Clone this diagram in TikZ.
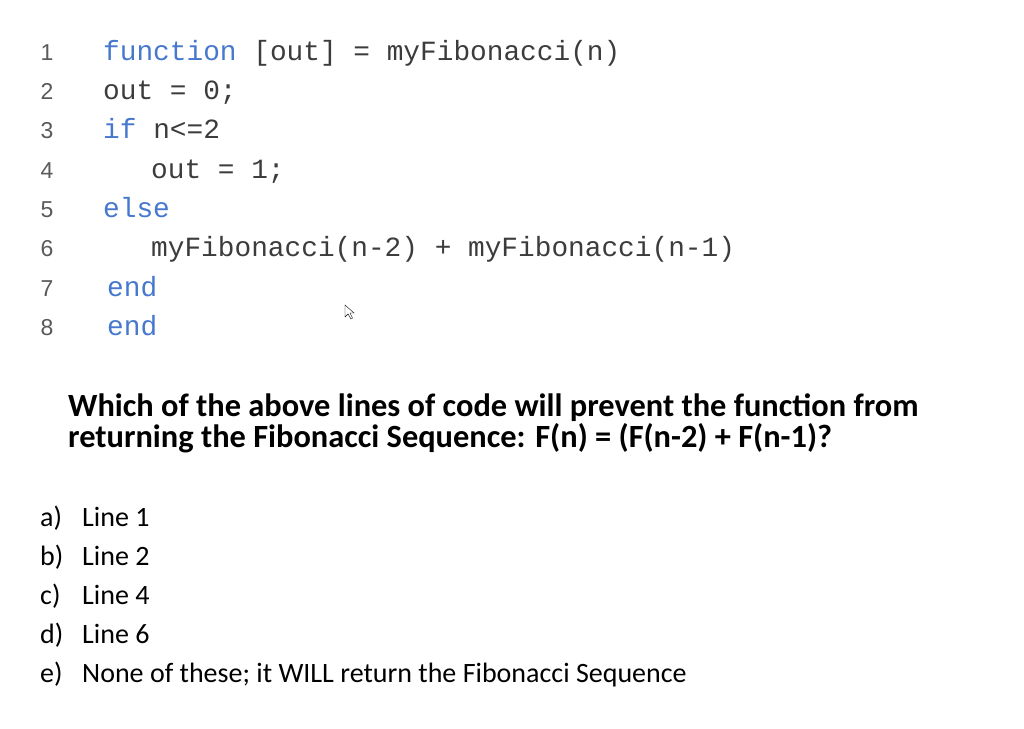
\documentclass[tikz,border=0pt]{standalone}
\usepackage{fontspec}
\setmainfont{Carlito}
\newfontfamily\codefont{Liberation Mono}
\newfontfamily\numfont{Liberation Sans}
\definecolor{kw}{RGB}{70,120,205}
\definecolor{cd}{RGB}{60,60,60}
\definecolor{ln}{RGB}{90,90,90}
\begin{document}
\begin{tikzpicture}[x=1pt,y=-1pt,
  num/.style={anchor=base,font=\numfont\fontsize{23}{23}\selectfont,text=ln,inner sep=0},
  code/.style={anchor=base west,font=\codefont\fontsize{27.8}{27.8}\selectfont,text=cd,inner sep=0},
  q/.style={anchor=base west,font=\bfseries\fontsize{32.4}{32.4}\selectfont,inner sep=0},
  ans/.style={anchor=base west,font=\fontsize{28}{28}\selectfont,inner sep=0}]
\useasboundingbox[fill=white] (0,0) rectangle (1024,728);
\foreach \i/\y in {1/60,2/99,3/138,4/178,5/217,6/256,7/296,8/335}
  \node[num] (n\i) at (47,\y) {\i};
\node[code] (c1) at (103,60) {\textcolor{kw}{function} [out] = myFibonacci(n)};
\node[code] (c2) at (103,99) {out = 0;};
\node[code] (c3) at (103,138) {\textcolor{kw}{if} n<=2};
\node[code] (c4) at (151,178) {out = 1;};
\node[code] (c5) at (103,217) {\textcolor{kw}{else}};
\node[code] (c6) at (151,256) {myFibonacci(n-2) + myFibonacci(n-1)};
\node[code] (c7) at (107,296) {\textcolor{kw}{end}};
\node[code] (c8) at (107,335) {\textcolor{kw}{end}};
\draw[thin,fill=white] (345,305) -- (345,317) -- (348,314) -- (351,319) -- (352.5,318) -- (350,313) -- (354,313) -- cycle;
\node[q] (q1) at (68,416) {Which of the above lines of code will prevent the function from};
\node[q] (q2) at (68,447) {returning the Fibonacci Sequence: F(n) = (F(n-2) + F(n-1)?};
\node[ans] (a) at (40,526) {a)}; \node[ans] (a2) at (82,526) {Line 1};
\node[ans] (b) at (40,565) {b)}; \node[ans] (b2) at (82,565) {Line 2};
\node[ans] (c) at (40,604) {c)}; \node[ans] (c2) at (82,604) {Line 4};
\node[ans] (d) at (40,643) {d)}; \node[ans] (d2) at (82,643) {Line 6};
\node[ans] (e) at (40,682) {e)}; \node[ans] (e2) at (82,682) {None of these; it WILL return the Fibonacci Sequence};
\end{tikzpicture}
\end{document}
